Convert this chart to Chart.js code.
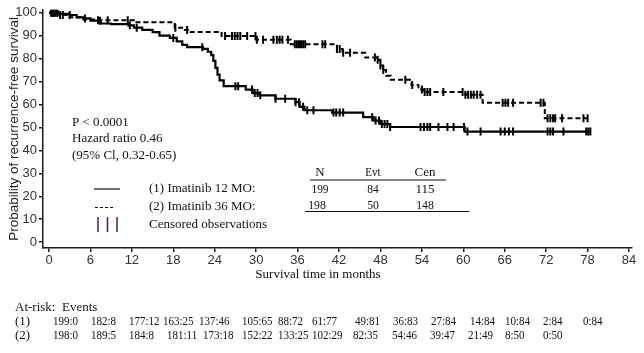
<!DOCTYPE html>
<html>
<head>
<meta charset="utf-8">
<script src="https://cdn.jsdelivr.net/npm/chart.js@4.4.1/dist/chart.umd.min.js"></script>
<style>
  html, body { margin: 0; padding: 0; background: #fff; }
  #wrap { width: 644px; height: 353px; }
</style>
</head>
<body>
<div id="wrap"><canvas id="kmChart" width="644" height="353"></canvas></div>
<script>
// axis ticks
const xTicks = [0, 6, 12, 18, 24, 30, 36, 42, 48, 54, 60, 66, 72, 78, 84];
const yTicks = [0, 10, 20, 30, 40, 50, 60, 70, 80, 90, 100];

// (1) Imatinib 12 MO - step times (months) and survival (%) after each step
const arm1Times = [0, 1.5, 3, 4, 5, 6, 7.5, 9, 11.5, 12.3, 13.5, 15, 16, 17.5, 18.5, 19.3, 20, 22.3, 23, 23.5, 23.8, 24.1, 24.4, 24.7, 25.3, 28.5, 29.5, 30.5, 32.8, 35.7, 36.3, 37, 41, 45.5, 47, 48, 49.4, 60.2, 78.4];
const arm1Surv  = [100, 99.5, 99, 98, 97.5, 96.5, 95.3, 95, 94.5, 93.5, 92.5, 91.5, 90, 89, 87.5, 86, 85, 84.2, 83, 81.5, 79, 76, 73, 70.5, 68, 66.5, 65, 64, 62.5, 61, 59, 57.5, 56.5, 54.5, 53, 51.5, 50.2, 48.2, 48.2];
const arm1Censor = [0.3, 0.6, 0.9, 1.2, 3, 5.2, 7.4, 11.7, 12.7, 18, 22.2, 27, 27.4, 29.4, 29.8, 30.2, 30.6, 32.8, 34.2, 35.7, 36.2, 36.8, 37.4, 38.3, 41.2, 41.6, 42.1, 42.6, 46.8, 47.3, 47.8, 48.2, 48.6, 49, 49.4, 53.8, 54.3, 54.8, 55.2, 56.4, 57.7, 58.6, 60.1, 60.6, 62.5, 65.4, 66, 66.6, 67.2, 72.2, 72.6, 73, 74.5, 77.8, 78.1, 78.4];

// (2) Imatinib 36 MO
const arm2Times = [0, 1.5, 3, 5, 7, 12.3, 18.2, 19.5, 20.5, 25, 30, 35, 41.7, 42.5, 45.8, 47.5, 48, 48.4, 48.8, 49.5, 52.5, 53.5, 54.2, 60.3, 62.8, 71.8, 78];
const arm2Surv  = [100, 99, 98, 97, 96.7, 95.8, 93.5, 92.5, 91.6, 89.8, 88.2, 86.3, 84.2, 82.5, 80.5, 79.5, 77, 75, 72.5, 70.8, 68.5, 66.5, 65.4, 64.2, 60.8, 54, 54];
const arm2Censor = [0.4, 0.8, 1.2, 1.6, 2, 7.1, 8.5, 11.4, 18.3, 20, 25.5, 26.5, 26.9, 27.3, 27.7, 28.7, 29.9, 30.1, 31, 32.5, 33, 33.4, 33.8, 34.6, 35.6, 35.9, 36.2, 36.5, 36.8, 37.1, 39.6, 40, 41.7, 42.1, 42.6, 43.6, 47.2, 47.6, 48, 48.4, 51.6, 52.6, 54, 54.4, 54.8, 55.2, 57.1, 59.9, 60.3, 60.7, 61.1, 61.5, 62, 62.5, 65.7, 66.1, 66.5, 67.2, 71.2, 71.6, 72.2, 72.6, 73, 73.3, 74.3, 77.4, 78];

// summary table
const tableHead = ["N", "Evt", "Cen"];
const tableRow1 = ["199", "84", "115"];
const tableRow2 = ["198", "50", "148"];

// at-risk : events
const atRisk1 = ["199:0", "182:8", "177:12", "163:25", "137:46", "105:65", "88:72", "61:77", "49:81", "36:83", "27:84", "14:84", "10:84", "2:84", "0:84"];
const atRisk2 = ["198:0", "189:5", "184:8", "181:11", "173:18", "152:22", "133:25", "102:29", "82:35", "54:46", "39:47", "21:49", "8:50", "0:50"];

// layout only (pixel columns of the at-risk text)
const atRiskCols1 = [53, 91, 129, 163, 199, 242, 278, 312, 355, 393, 431, 470, 505, 543, 583];
const atRiskCols2 = [53, 91, 129, 167, 203, 242, 278, 312, 353, 392, 430, 468, 505, 543];

function stepPoints(times, surv) {
    return times.map((t, i) => ({ x: t, y: surv[i] }));
}

function survAt(times, surv, t) {
    let v = surv[0];
    for (let i = 0; i < times.length; i++) {
        if (times[i] <= t) v = surv[i];
    }
    return v;
}

function censorPoints(censor, times, surv) {
    return censor.map(t => ({ x: t, y: survAt(times, surv, t) }));
}

// narrow text the way the original's condensed digits look
function narrowText(ctx, text, x, y, squeeze) {
    ctx.fillText(text, x, y, ctx.measureText(text).width * squeeze);
}

const SERIF = "'Liberation Serif', 'Times New Roman', serif";
const SANS = "'Liberation Sans', Arial, sans-serif";

const annotations = {
    id: "annotations",
    afterDraw(chart) {
        const ctx = chart.ctx;
        ctx.save();
        ctx.fillStyle = "#111";
        ctx.textBaseline = "middle";
        ctx.font = "13px " + SERIF;

        // x axis title
        ctx.textAlign = "center";
        ctx.fillText("Survival time in months", 318, 275);

        // stats
        ctx.textAlign = "left";
        ctx.fillText("P < 0.0001", 72, 123);
        ctx.fillText("Hazard ratio 0.46", 72, 139);
        ctx.fillText("(95% Cl, 0.32-0.65)", 72, 156);

        // legend
        ctx.strokeStyle = "#111";
        ctx.lineWidth = 1.2;
        ctx.beginPath();
        ctx.moveTo(94, 189); ctx.lineTo(120, 189);
        ctx.stroke();
        ctx.setLineDash([3, 2]);
        ctx.beginPath();
        ctx.moveTo(95, 207.5); ctx.lineTo(114, 207.5);
        ctx.stroke();
        ctx.setLineDash([]);
        ctx.strokeStyle = "#4a1c44";
        ctx.lineWidth = 1.5;
        [98, 107.5, 117].forEach(x => {
            ctx.beginPath();
            ctx.moveTo(x, 217); ctx.lineTo(x, 232);
            ctx.stroke();
        });
        ctx.fillText("(1) Imatinib 12 MO:", 149, 189);
        ctx.fillText("(2) Imatinib 36 MO:", 149, 207);
        ctx.fillText("Censored observations", 149, 225);

        // N / Evt / Cen table
        ctx.textAlign = "center";
        const cols = [320, 373, 425];
        tableHead.forEach((t, i) => narrowText(ctx, t, cols[i], 173, i === 1 ? 0.85 : 1));
        tableRow1.forEach((t, i) => narrowText(ctx, t, cols[i], 189.5, i === 2 ? 1.05 : 0.88));
        tableRow2.forEach((t, i) => narrowText(ctx, t, cols[i] - (i === 0 ? 3 : 0), 206, 0.9));
        ctx.strokeStyle = "#111";
        ctx.lineWidth = 1.2;
        ctx.beginPath();
        ctx.moveTo(310, 180); ctx.lineTo(446, 180);
        ctx.moveTo(305, 211.5); ctx.lineTo(469, 211.5);
        ctx.stroke();

        // at-risk table
        ctx.textAlign = "left";
        ctx.fillText("At-risk:  Events", 15, 308);
        ctx.fillText("(1)", 15, 322);
        ctx.fillText("(2)", 15, 336);
        ctx.font = "12.5px " + SERIF;
        atRisk1.forEach((t, i) => narrowText(ctx, t, atRiskCols1[i], 322, 0.88));
        atRisk2.forEach((t, i) => narrowText(ctx, t, atRiskCols2[i], 336, 0.88));
        ctx.restore();
    }
};

const axisColor = "#1a1a1a";

new Chart(document.getElementById("kmChart").getContext("2d"), {
    type: "line",
    data: {
        datasets: [
            {
                label: "(1) Imatinib 12 MO",
                data: stepPoints(arm1Times, arm1Surv),
                stepped: "before",
                borderColor: "#000",
                borderWidth: 2.2,
                pointRadius: 0,
                fill: false
            },
            {
                label: "(2) Imatinib 36 MO",
                data: stepPoints(arm2Times, arm2Surv),
                stepped: "before",
                borderColor: "#000",
                borderWidth: 2,
                borderDash: [5, 3],
                pointRadius: 0,
                fill: false
            },
            {
                label: "Censored 1",
                data: censorPoints(arm1Censor, arm1Times, arm1Surv),
                showLine: false,
                pointStyle: "line",
                rotation: 90,
                pointRadius: 4,
                borderColor: "#000",
                borderWidth: 2
            },
            {
                label: "Censored 2",
                data: censorPoints(arm2Censor, arm2Times, arm2Surv),
                showLine: false,
                pointStyle: "line",
                rotation: 90,
                pointRadius: 4,
                borderColor: "#000",
                borderWidth: 2
            }
        ]
    },
    options: {
        responsive: false,
        animation: false,
        devicePixelRatio: 1,
        layout: { padding: { top: 2, right: 12, bottom: 0, left: 0 } },
        plugins: {
            legend: { display: false },
            tooltip: { enabled: false }
        },
        scales: {
            x: {
                type: "linear",
                min: -0.87,
                max: 84.43,
                afterBuildTicks: scale => { scale.ticks = xTicks.map(v => ({ value: v })); },
                afterFit: scale => { scale.height = 105; },
                border: { color: axisColor, width: 1.5 },
                grid: { drawOnChartArea: false, drawTicks: true, tickLength: 4, color: axisColor, lineWidth: 1.5 },
                ticks: { color: "#333", padding: 1, maxRotation: 0, autoSkip: false, font: { family: SANS, size: 13 } }
            },
            y: {
                type: "linear",
                min: -2.53,
                max: 101.27,
                afterBuildTicks: scale => { scale.ticks = yTicks.map(v => ({ value: v })); },
                afterFit: scale => { scale.width = 43; },
                border: { color: axisColor, width: 1.5 },
                grid: { drawOnChartArea: false, drawTicks: true, tickLength: 4, color: axisColor, lineWidth: 1.5 },
                ticks: { color: "#333", padding: 2, autoSkip: false, font: { family: SANS, size: 13 } },
                title: {
                    display: true,
                    text: "Probability of recurrence-free survival",
                    color: "#222",
                    font: { family: SANS, size: 13.5 },
                    padding: { top: 6, bottom: 0 }
                }
            }
        }
    },
    plugins: [annotations]
});
</script>
</body>
</html>
